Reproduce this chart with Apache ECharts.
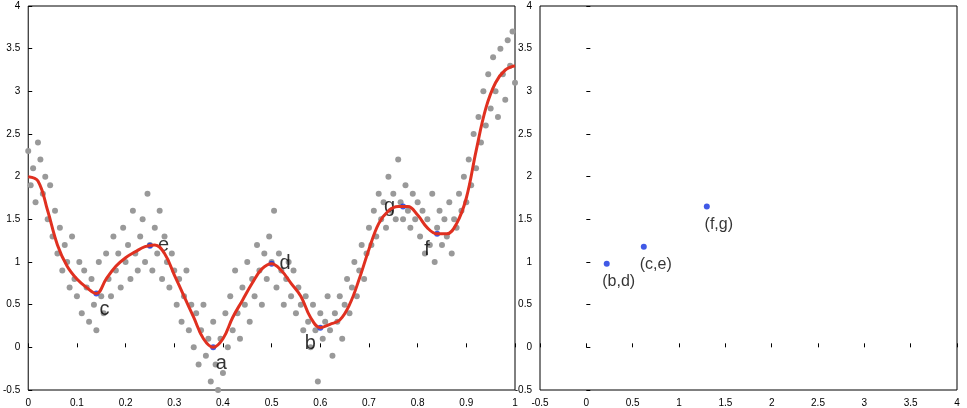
<!DOCTYPE html><html><head><meta charset="utf-8"><script src="https://cdn.jsdelivr.net/npm/echarts@6/dist/echarts.min.js"></script>
<style>html,body{margin:0;background:#fff}#c{width:967px;height:408px}</style></head><body><div id="c"></div><script>
const noisy=[[0.0,2.3],[0.005,1.9],[0.01,2.1],[0.015,1.7],[0.02,2.4],[0.025,2.2],[0.03,1.8],[0.035,2.0],[0.04,1.5],[0.045,1.9],[0.05,1.3],[0.055,1.6],[0.06,1.1],[0.065,1.4],[0.07,0.9],[0.075,1.2],[0.08,1.0],[0.085,0.7],[0.09,1.3],[0.095,0.8],[0.1,0.6],[0.105,1.0],[0.11,0.4],[0.115,0.9],[0.12,0.7],[0.125,0.3],[0.13,0.8],[0.135,0.5],[0.14,0.2],[0.145,1.0],[0.15,0.6],[0.155,0.4],[0.16,1.1],[0.165,0.8],[0.17,0.6],[0.175,1.3],[0.18,0.9],[0.185,1.1],[0.19,0.7],[0.195,1.4],[0.2,1.0],[0.205,1.2],[0.21,0.8],[0.215,1.6],[0.22,1.1],[0.225,0.9],[0.23,1.3],[0.235,1.5],[0.24,1.0],[0.245,1.8],[0.25,1.2],[0.255,0.9],[0.26,1.4],[0.265,1.1],[0.27,1.6],[0.275,0.8],[0.28,1.3],[0.285,1.0],[0.29,0.7],[0.295,1.1],[0.3,0.9],[0.305,0.5],[0.31,0.8],[0.315,0.3],[0.32,0.6],[0.325,0.9],[0.33,0.2],[0.335,0.5],[0.34,0.0],[0.345,0.4],[0.35,-0.2],[0.355,0.2],[0.36,0.5],[0.365,-0.1],[0.37,0.1],[0.375,-0.4],[0.38,0.3],[0.385,-0.2],[0.39,-0.5],[0.395,0.1],[0.4,-0.3],[0.405,0.4],[0.41,0.0],[0.415,0.6],[0.42,0.2],[0.425,0.9],[0.43,0.4],[0.435,0.1],[0.44,0.7],[0.445,0.5],[0.45,1.0],[0.455,0.3],[0.46,0.8],[0.465,0.6],[0.47,1.2],[0.475,0.9],[0.48,0.5],[0.485,1.1],[0.49,0.8],[0.495,1.3],[0.5,1.0],[0.505,1.6],[0.51,0.7],[0.515,1.1],[0.52,0.9],[0.525,0.5],[0.53,0.8],[0.535,1.0],[0.54,0.6],[0.545,0.9],[0.55,0.4],[0.555,0.7],[0.56,0.5],[0.565,0.2],[0.57,0.6],[0.575,0.3],[0.58,0.0],[0.585,0.5],[0.59,0.2],[0.595,-0.4],[0.6,0.4],[0.605,0.1],[0.61,0.3],[0.615,0.6],[0.62,0.2],[0.625,-0.1],[0.63,0.4],[0.635,0.3],[0.64,0.6],[0.645,0.1],[0.65,0.5],[0.655,0.8],[0.66,0.4],[0.665,0.7],[0.67,1.0],[0.675,0.6],[0.68,0.9],[0.685,1.2],[0.69,0.8],[0.695,1.1],[0.7,1.4],[0.705,1.2],[0.71,1.6],[0.715,1.3],[0.72,1.8],[0.725,1.5],[0.73,1.7],[0.735,1.4],[0.74,2.0],[0.745,1.6],[0.75,1.8],[0.755,1.5],[0.76,2.2],[0.765,1.7],[0.77,1.5],[0.775,1.9],[0.78,1.6],[0.785,1.4],[0.79,1.8],[0.795,1.5],[0.8,1.7],[0.805,1.3],[0.81,1.6],[0.815,1.1],[0.82,1.5],[0.825,1.2],[0.83,1.8],[0.835,1.0],[0.84,1.4],[0.845,1.6],[0.85,1.2],[0.855,1.5],[0.86,1.3],[0.865,1.7],[0.87,1.1],[0.875,1.5],[0.88,1.4],[0.885,1.8],[0.89,1.6],[0.895,2.0],[0.9,1.7],[0.905,2.2],[0.91,1.9],[0.915,2.5],[0.92,2.1],[0.925,2.7],[0.93,2.4],[0.935,3.0],[0.94,2.6],[0.945,3.2],[0.95,2.8],[0.955,3.4],[0.96,3.0],[0.965,2.7],[0.97,3.5],[0.975,3.2],[0.98,2.9],[0.985,3.6],[0.99,3.3],[0.995,3.7],[1.0,3.1]];
const curveX=[0,0.02,0.04,0.06,0.08,0.1,0.12,0.14,0.16,0.18,0.2,0.22,0.24,0.26,0.28,0.3,0.32,0.34,0.36,0.38,0.4,0.42,0.44,0.46,0.48,0.5,0.52,0.54,0.56,0.58,0.6,0.62,0.64,0.66,0.68,0.7,0.72,0.74,0.76,0.78,0.8,0.82,0.84,0.86,0.88,0.9,0.92,0.94,0.96,0.98,1.0];
const curveY=[2.0,1.95,1.6,1.2,0.95,0.8,0.7,0.63,0.8,0.95,1.05,1.12,1.18,1.2,1.1,0.85,0.6,0.35,0.1,0.0,0.1,0.35,0.55,0.75,0.92,0.98,0.9,0.75,0.6,0.35,0.23,0.27,0.32,0.5,0.8,1.15,1.45,1.6,1.65,1.65,1.55,1.4,1.33,1.33,1.45,1.75,2.3,2.8,3.1,3.25,3.3];
const extrema=[['a',0.38,0.0,'bottom'],['b',0.6,0.23,'bl'],['c',0.14,0.63,'bottom'],['d',0.5,0.98,'right'],['e',0.25,1.19,'right'],['f',0.84,1.33,'bl'],['g',0.77,1.65,'left']];
const pairs=[['(b,d)',0.22,0.98],['(c,e)',0.62,1.18],['(f,g)',1.3,1.65]];
const ax=(min,max,iv,gi)=>({type:'value',gridIndex:gi,min,max,interval:iv,axisLine:{show:false},axisTick:{inside:true,length:4,lineStyle:{color:'#000'}},splitLine:{show:false},axisLabel:{color:'#000',fontSize:10,fontFamily:'Liberation Sans'}});
const lblPos={bottom:{position:'bottom',offset:[8,-2]},bl:{position:'bottom',offset:[-10,-2]},right:{position:'right'},left:{position:'left'}};
const chart=echarts.init(document.getElementById('c'));
chart.setOption({animation:false,
grid:[{left:27,right:452,top:6,bottom:16,show:true,borderColor:'#000',borderWidth:1},{left:540,right:10,top:6,bottom:16,show:true,borderColor:'#000',borderWidth:1}],
xAxis:[ax(0,1,0.1,0),ax(-0.5,4,0.5,1)],
yAxis:[ax(-0.5,4,0.5,0),ax(-0.5,4,0.5,1)],
series:[
{type:'scatter',xAxisIndex:0,yAxisIndex:0,data:noisy,symbolSize:6,itemStyle:{color:'#999',opacity:1}},
{type:'line',xAxisIndex:0,yAxisIndex:0,data:curveX.map((x,i)=>[x,curveY[i]]),smooth:0.4,showSymbol:false,lineStyle:{color:'#e03020',width:3}},
{type:'scatter',xAxisIndex:0,yAxisIndex:0,symbolSize:6,itemStyle:{color:'#1030e0'},data:extrema.map(e=>({value:[e[1],e[2]],label:Object.assign({show:true,formatter:e[0],fontSize:20,color:'#000',fontFamily:'Liberation Sans'},lblPos[e[3]])}))},
{type:'scatter',xAxisIndex:1,yAxisIndex:1,symbolSize:6,itemStyle:{color:'#1030e0'},data:pairs.map(p=>({value:[p[1],p[2]],label:{show:true,formatter:p[0],position:'bottom',offset:[12,2],fontSize:16,color:'#000',fontFamily:'Liberation Sans'}}))}
]});
</script></body></html>
